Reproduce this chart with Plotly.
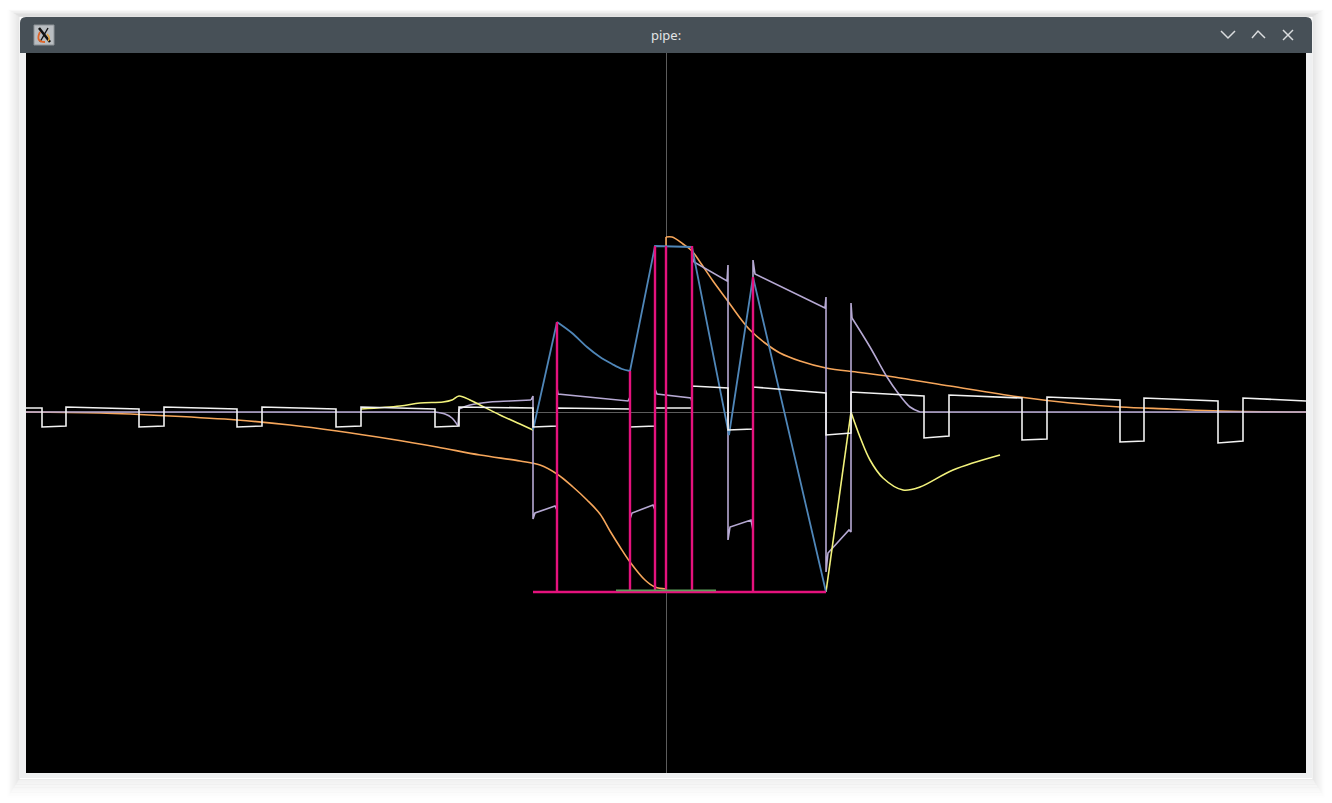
import plotly.graph_objects as go

# ---------------- data (x: samples from centre, y: level) ----------------
# white square wave, one entry per flat segment
white_x_start = [-640, -624, -600, -527, -502, -429, -404, -330, -305, -231, -207, -133, -109, -36,
                 -11, 26, 62, 87, 160, 185, 258, 283, 356, 381, 454, 478, 552, 577]
white_x_end = [-624, -600, -527, -502, -429, -404, -330, -305, -231, -207, -133, -109, -36, -11,
               26, 62, 87, 160, 185, 258, 283, 356, 381, 454, 478, 552, 577, 640]
white_y_start = [4, -15, 5, -15, 5, -15, 5, -15, 5, -15, 5, -15, 4, -15,
                 4, 26, -18, 25, -23, 20, -26, 17, -28, 15, -30, 14, -31, 14]
white_y_end = [4, -14, 3, -14, 3, -14, 3, -14, 3, -14, 4, -14, 3, -14,
               4, 24, -17, 19, -21, 16, -24, 14, -27, 12, -29, 11, -29, 11]

# lavender: straight / stepped parts (None = break) and smooth parts
lavender_x = [-640, -231, None, -208, -207, None,
              -135, -133, -133, -131, -111,
              -109, -109, -108, -38,
              -36, -36, -34, -13,
              -11, -11, -9, 25,
              26, 26, 28, 61,
              62, 62, 64, 85,
              87, 87, 89, 159,
              160, 160, 162, 183,
              185, 185, 186, None, 254, 640]
lavender_y = [0, 0, None, -14, 3, None,
              12, 16, -107, -101, -94,
              -98, 24, 18, 11,
              15, -107, -101, -93,
              -98, 23, 18, 14,
              10, 156, 150, 131,
              147, -128, -115, -108,
              -118, 152, 138, 104,
              115, -160, -141, -118,
              -120, 109, 94, None, 0, 0]
lavender_curve_x = [[-231, -221, -214, -208],
                    [-207, -196, -176, -156, -135],
                    [186, 204, 221, 232, 244, 254]]
lavender_curve_y = [[0, -2, -6, -14],
                    [3, 7, 10, 11, 12],
                    [94, 65, 35, 19, 5, 0]]

blue_x = [-133, -109, None, -36, -11, 26, 63, 87, 160]
blue_y = [-18, 90, None, 41, 166, 165, -23, 135, -180]
blue_curve_x = [-109, -94, -79, -66, -54, -44, -36]
blue_curve_y = [90, 79, 65, 55, 48, 43, 41]

orange_left_x = [-640, -566, -496, -429, -376, -329, -276, -229, -186, -146, -126, -109, -93, -79,
                 -66, -56, -46, -36, -21, -11, 0]
orange_left_y = [0, -1, -4, -8, -13, -19, -27, -35, -43, -49, -53, -62, -75, -88,
                 -102, -119, -135, -150, -168, -175, -177]
orange_right_x = [0, 6, 17, 26, 34, 47, 61, 74, 84, 99, 114, 134, 160, 194, 234, 284, 354, 404, 454,
                  504, 554, 640]
orange_right_y = [175, 175, 168, 161, 150, 131, 112, 94, 82, 69, 59, 51, 44, 39.5, 34, 26, 15, 9, 5,
                  3, 1, 0]

yellow_left_x = [-305, -266, -246, -223, -214, -207, -196, -186, -166, -146, -133]
yellow_left_y = [3, 6, 9, 10, 12, 16, 12, 7, -3, -12, -18]
yellow_rise_x = [160, 185]
yellow_rise_y = [-180, 0]
yellow_right_x = [185, 194, 204, 217, 237, 254, 287, 334]
yellow_right_y = [0, -25, -48, -66, -78, -75, -58, -43]

stem_x = [-109, -36, -11, 0, 26, 87]
stem_top = [90, 41, 166, 166, 166, 135]
stem_base = -180
base_x = [-133, 160]

green_x = [-50, 50]
green_y = [-178.3, -178.3]

# ---------------- build traces ----------------
wx, wy = [], []
for a, b, ya, yb in zip(white_x_start, white_x_end, white_y_start, white_y_end):
    wx += [a, b]
    wy += [ya, yb]

px, py = [base_x[0], base_x[1], None], [stem_base, stem_base, None]
for sx, st in zip(stem_x, stem_top):
    px += [sx, sx, None]
    py += [stem_base, st, None]

ORANGE, LAV, YEL, BLUE = "#f6a65b", "#b6a9d3", "#f2f27c", "#4f86b8"

fig = go.Figure()
common = dict(mode="lines", hoverinfo="skip", showlegend=False)


def add(x, y, color, width, smooth=False):
    ln = dict(color=color, width=width)
    if smooth:
        ln.update(shape="spline", smoothing=1.0)
    fig.add_trace(go.Scatter(x=x, y=y, line=ln, **common))


add(orange_left_x, orange_left_y, ORANGE, 1.6, True)
add([orange_left_x[-1], orange_right_x[0]], [orange_left_y[-1], orange_right_y[0]], ORANGE, 1.6)
add(orange_right_x, orange_right_y, ORANGE, 1.6, True)
add(lavender_x, lavender_y, LAV, 1.6)
for cx, cy in zip(lavender_curve_x, lavender_curve_y):
    add(cx, cy, LAV, 1.6, True)
add(yellow_left_x, yellow_left_y, YEL, 1.6, True)
add(yellow_rise_x, yellow_rise_y, YEL, 1.6)
add(yellow_right_x, yellow_right_y, YEL, 1.6, True)
add(blue_x, blue_y, BLUE, 1.8)
add(blue_curve_x, blue_curve_y, BLUE, 1.8, True)
add(wx, wy, "#f2f2f2", 1.6)
add(px, py, "#e5127d", 2.4)
add(green_x, green_y, "#5d9f5a", 1.8)

# ---------------- window chrome (pixel -> paper) ----------------
L, T, W, H = 26, 53, 1280, 720


def X(p):
    return (p - L) / W


def Y(p):
    return (T + H - p) / H


shapes = []
for k in range(1, 13):
    a = 0.085 * (1 - k / 13)
    shapes.append(dict(type="rect", xref="paper", yref="paper",
                       x0=X(20 - k), x1=X(1312 + k), y0=Y(778 + 1.6 * k), y1=Y(17 - 0.6 * k),
                       line=dict(color=f"rgba(0,0,0,{a:.3f})", width=1.3), fillcolor="rgba(0,0,0,0)"))
shapes.append(dict(type="path", xref="paper", yref="paper",
                   path=(f"M {X(20)},{Y(53)} L {X(20)},{Y(23)} Q {X(20)},{Y(17)} {X(26)},{Y(17)} "
                         f"L {X(1306)},{Y(17)} Q {X(1312)},{Y(17)} {X(1312)},{Y(23)} L {X(1312)},{Y(53)} Z"),
                   fillcolor="#475057", line=dict(width=0)))
for x0, x1, y0, y1 in [(20, 26, 53, 778), (1306, 1312, 53, 778), (20, 1312, 773, 778)]:
    shapes.append(dict(type="rect", xref="paper", yref="paper", x0=X(x0), x1=X(x1), y0=Y(y1), y1=Y(y0),
                       fillcolor="#eff0f1", line=dict(width=0)))
# icon
shapes.append(dict(type="rect", xref="paper", yref="paper", x0=X(34), x1=X(54), y0=Y(45), y1=Y(25),
                   fillcolor="#b9bdc1", line=dict(color="#8d9297", width=1)))
shapes.append(dict(type="line", xref="paper", yref="paper", x0=X(39), y0=Y(28), x1=X(50), y1=Y(42),
                   line=dict(color="#111111", width=2.6)))
shapes.append(dict(type="line", xref="paper", yref="paper", x0=X(48), y0=Y(28), x1=X(40), y1=Y(42),
                   line=dict(color="#111111", width=1.4)))
shapes.append(dict(type="path", xref="paper", yref="paper",
                   path=f"M {X(40)},{Y(32)} Q {X(35)},{Y(42)} {X(45)},{Y(42)}",
                   line=dict(color="#e0662a", width=1.8)))
shapes.append(dict(type="path", xref="paper", yref="paper",
                   path=f"M {X(47)},{Y(34)} Q {X(51)},{Y(38)} {X(48)},{Y(41)}",
                   line=dict(color="#e8a23a", width=1.4)))
# buttons
btn = dict(color="#dadcde", width=1.5)
shapes.append(dict(type="path", xref="paper", yref="paper",
                   path=f"M {X(1221)},{Y(31)} L {X(1228)},{Y(38)} L {X(1235)},{Y(31)}", line=btn))
shapes.append(dict(type="path", xref="paper", yref="paper",
                   path=f"M {X(1252)},{Y(38)} L {X(1258)},{Y(31)} L {X(1265)},{Y(38)}", line=btn))
shapes.append(dict(type="line", xref="paper", yref="paper", x0=X(1283), y0=Y(30), x1=X(1293), y1=Y(40), line=btn))
shapes.append(dict(type="line", xref="paper", yref="paper", x0=X(1293), y0=Y(30), x1=X(1283), y1=Y(40), line=btn))

fig.update_layout(
    width=1332, height=803,
    margin=dict(l=26, r=26, t=53, b=30, pad=0),
    paper_bgcolor="#ffffff", plot_bgcolor="#000000",
    shapes=shapes,
    annotations=[dict(text="pipe:", xref="paper", yref="paper", x=X(666), y=Y(35),
                      showarrow=False, xanchor="center", yanchor="middle",
                      font=dict(family="Noto Sans, DejaVu Sans, sans-serif", size=13, color="#e2e4e6"))],
    xaxis=dict(range=[-640, 640], showgrid=False, showticklabels=False, ticks="", showline=False,
               zeroline=True, zerolinecolor="#5c5c5c", zerolinewidth=1, fixedrange=True),
    yaxis=dict(range=[-361, 359], showgrid=False, showticklabels=False, ticks="", showline=False,
               zeroline=True, zerolinecolor="#5c5c5c", zerolinewidth=1, fixedrange=True),
)

fig.write_html("out.html", config={"displayModeBar": False},
               post_script="document.body.style.margin='0';document.body.style.overflow='hidden';")
